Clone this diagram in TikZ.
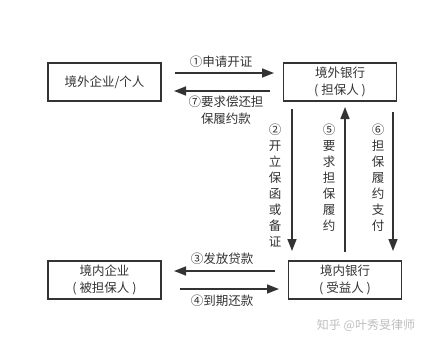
\documentclass[tikz,border=0pt]{standalone}
\usepackage{fontspec}
\setmainfont{Noto Sans CJK SC}
\usetikzlibrary{arrows.meta}
\definecolor{ink}{HTML}{333333}
\begin{document}
\begin{tikzpicture}[x=1pt,y=-1pt,
  box/.style={draw=ink,line width=1.8pt,minimum width=113pt,minimum height=38pt,inner sep=0pt,align=center,font=\fontsize{12.5}{17}\selectfont,text=ink},
  arr/.style={draw=ink,line width=1.6pt,-{Triangle[length=12pt,width=9pt]}},
  lab/.style={font=\fontsize{12.5}{17}\selectfont,text=ink,inner sep=0pt,align=center},
  vlab/.style={font=\fontsize{12.5}{16}\selectfont,text=ink,inner sep=0pt,align=center,text width=14pt}]
\useasboundingbox[fill=white] (0,0) rectangle (432,343);
\node[box] (a) at (104.5,82) {境外企业/个人};
\node[box] (b) at (340,82) {境外银行\\( 担保人 )};
\node[box] (c) at (104.5,280) {境内企业\\( 被担保人 )};
\node[box] (d) at (345,280) {境内银行\\( 受益人 )};
% top arrows
\coordinate (t1s) at (175,73); \coordinate (t1e) at (274,73);
\draw[arr] (t1s) -- (t1e);
\coordinate (t7s) at (270,91); \coordinate (t7e) at (174,91);
\draw[arr] (t7s) -- (t7e);
\node[lab] (l1) at (221,62) {①申请开证};
\node[lab,anchor=north] (l7) at (226,96) {⑦要求偿还担\\保履约款};
% vertical arrows
\coordinate (v2s) at (292,109); \coordinate (v2e) at (292,251);
\draw[arr] (v2s) -- (v2e);
\coordinate (v5s) at (345,252); \coordinate (v5e) at (345,107);
\draw[arr] (v5s) -- (v5e);
\coordinate (v6s) at (393,112); \coordinate (v6e) at (393,251);
\draw[arr] (v6s) -- (v6e);
\node[vlab,anchor=north] (l2) at (275,124) {②\\开\\立\\保\\函\\或\\备\\证};
\node[vlab,anchor=north] (l5) at (329,124) {⑤\\要\\求\\担\\保\\履\\约};
\node[vlab,anchor=north] (l6) at (378,124) {⑥\\担\\保\\履\\约\\支\\付};
% bottom arrows
\coordinate (b3s) at (275,271); \coordinate (b3e) at (174,271);
\draw[arr] (b3s) -- (b3e);
\coordinate (b4s) at (180,289); \coordinate (b4e) at (279,289);
\draw[arr] (b4s) -- (b4e);
\node[lab] (l3) at (222,259) {③发放贷款};
\node[lab] (l4) at (222,301) {④到期还款};
% watermark
\node[font=\fontsize{12}{14}\selectfont,text=black!25,inner sep=0pt] (wm) at (366,325) {知乎 @叶秀旻律师};
\end{tikzpicture}
\end{document}
